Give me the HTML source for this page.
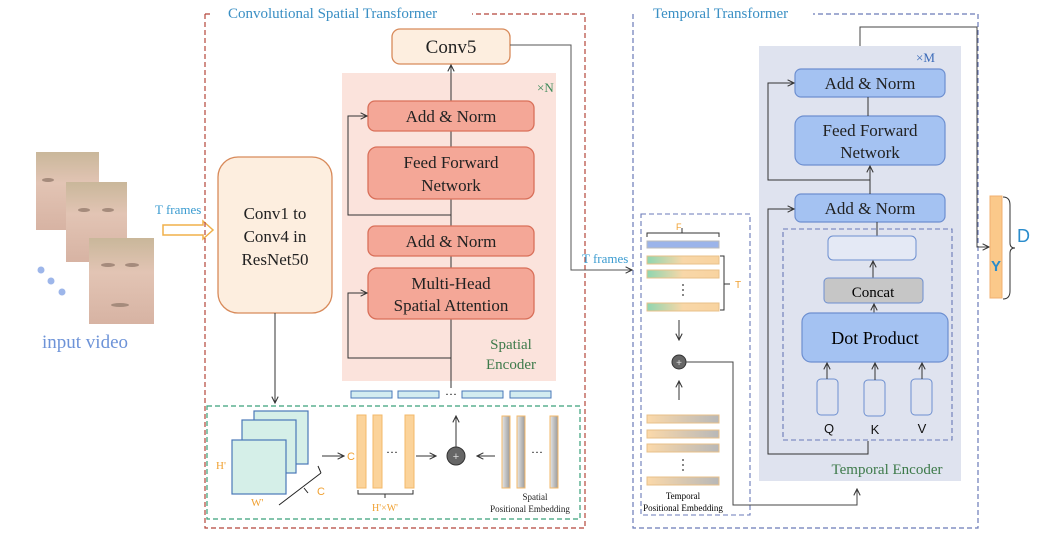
<!DOCTYPE html>
<html><head><meta charset="utf-8"><style>
html,body{margin:0;padding:0;background:#fff;}
svg{display:block;}
text{font-family:"Liberation Serif",serif;}
text.s{font-family:"Liberation Sans",sans-serif;}
</style></head><body>
<svg width="1048" height="560" viewBox="0 0 1048 560" xmlns="http://www.w3.org/2000/svg">
<defs>
<marker id="ar" viewBox="0 0 10 10" refX="9" refY="5" markerWidth="8" markerHeight="8" orient="auto-start-reverse"><path d="M1,1 L9,5 L1,9" fill="none" stroke="#333" stroke-width="1.3"/></marker>
<linearGradient id="gt" x1="0" x2="1"><stop offset="0" stop-color="#8fd6b0"/><stop offset="0.5" stop-color="#f8d7a8"/><stop offset="1" stop-color="#f8d3a0"/></linearGradient>
<linearGradient id="go" x1="0" x2="1"><stop offset="0" stop-color="#fbd9aa"/><stop offset="1" stop-color="#b8b8b8"/></linearGradient>
<linearGradient id="gv" x1="0" x2="1"><stop offset="0" stop-color="#e6e6e6"/><stop offset="1" stop-color="#9a9a9a"/></linearGradient>
<linearGradient id="face" x1="0" y1="0" x2="0" y2="1"><stop offset="0" stop-color="#c9b79a"/><stop offset="0.4" stop-color="#e2c4b4"/><stop offset="1" stop-color="#d7b3a3"/></linearGradient>
</defs>

<!-- faces -->
<rect x="36" y="152" width="63" height="78" fill="url(#face)"/>
<rect x="66" y="182" width="61" height="80" fill="url(#face)"/>
<rect x="89" y="238" width="65" height="86" fill="url(#face)"/>
<g fill="#a58b7c"><ellipse cx="108" cy="265" rx="7" ry="2"/><ellipse cx="132" cy="265" rx="7" ry="2"/><ellipse cx="120" cy="305" rx="9" ry="2"/>
<ellipse cx="84" cy="210" rx="6" ry="2"/><ellipse cx="108" cy="210" rx="6" ry="2"/><ellipse cx="48" cy="180" rx="6" ry="2"/></g>
<g fill="#9db6ea"><circle cx="41" cy="270" r="3.5"/><circle cx="51" cy="281" r="3.5"/><circle cx="62" cy="292" r="3.5"/></g>
<text x="42" y="348" font-size="19" fill="#6d93d8">input video</text>

<text x="155" y="214" font-size="13" fill="#3a9bd0">T frames</text>
<path d="M163,225 H203 V221 L213,230 L203,239 V235 H163 Z" fill="none" stroke="#f0b04a" stroke-width="1.5"/>

<!-- red dashed box -->
<path d="M205,14 V528 H585 V14 H472 M205,14 H212" fill="none" stroke="#b5453a" stroke-width="1.2" stroke-dasharray="5,3"/>
<text x="228" y="18" font-size="15" fill="#3a8fc4">Convolutional Spatial Transformer</text>

<!-- blue dashed box -->
<path d="M633,14 V528 H978 V14 H813" fill="none" stroke="#6a7ab8" stroke-width="1.2" stroke-dasharray="5,3"/>
<text x="653" y="18" font-size="15" fill="#3a8fc4">Temporal Transformer</text>

<!-- Conv1 box -->
<rect x="218" y="157" width="114" height="156" rx="20" fill="#fdeedf" stroke="#d88a5a" stroke-width="1.3"/>
<g font-size="17" fill="#222" text-anchor="middle"><text x="275" y="219">Conv1 to</text><text x="275" y="242">Conv4 in</text><text x="275" y="265">ResNet50</text></g>
<line x1="275" y1="313" x2="275" y2="403" stroke="#333" marker-end="url(#ar)"/>

<!-- spatial encoder -->
<rect x="342" y="73" width="214" height="308" fill="#fbe3dc"/>
<text x="537" y="92" font-size="13" fill="#3d8a5a">×N</text>
<text x="511" y="349" font-size="15" fill="#3d7a4a" text-anchor="middle">Spatial</text>
<text x="511" y="369" font-size="15" fill="#3d7a4a" text-anchor="middle">Encoder</text>
<rect x="392" y="29" width="118" height="35" rx="8" fill="#fdeedf" stroke="#d88a5a" stroke-width="1.3"/>
<text x="451" y="53" font-size="19" text-anchor="middle" fill="#222">Conv5</text>
<line x1="451" y1="390" x2="451" y2="65" stroke="#333" marker-end="url(#ar)"/>
<g fill="#f4a797" stroke="#d9705a" stroke-width="1.3">
<rect x="368" y="101" width="166" height="30" rx="7"/>
<rect x="368" y="147" width="166" height="52" rx="9"/>
<rect x="368" y="226" width="166" height="30" rx="7"/>
<rect x="368" y="268" width="166" height="51" rx="9"/>
</g>
<g font-size="17" fill="#222" text-anchor="middle">
<text x="451" y="122">Add &amp; Norm</text>
<text x="451" y="168">Feed Forward</text><text x="451" y="191">Network</text>
<text x="451" y="247">Add &amp; Norm</text>
<text x="451" y="289">Multi-Head</text><text x="451" y="311">Spatial Attention</text>
</g>
<path d="M451,215 H348 V116 H367" fill="none" stroke="#333" marker-end="url(#ar)"/>
<path d="M451,358 H348 V293 H367" fill="none" stroke="#333" marker-end="url(#ar)"/>
<!-- tokens -->
<g fill="#d3ecf0" stroke="#4a78b8" stroke-width="1"><rect x="351" y="391" width="41" height="7"/><rect x="398" y="391" width="41" height="7"/><rect x="462" y="391" width="41" height="7"/><rect x="510" y="391" width="41" height="7"/></g>
<rect x="446" y="388" width="12" height="12" fill="#fff"/>
<text x="451" y="398" font-size="12" text-anchor="middle">···</text>

<!-- Conv5 to temporal -->
<path d="M510,45 H571 V270 H632" fill="none" stroke="#555" marker-end="url(#ar)"/>
<text x="582" y="263" font-size="13" fill="#3a9bd0">T frames</text>

<!-- green dashed -->
<rect x="207" y="406" width="373" height="113" fill="none" stroke="#3aa07a" stroke-width="1.2" stroke-dasharray="5,3"/>
<g fill="#d5efe8" stroke="#4a78b8" stroke-width="1.2"><rect x="254" y="411" width="54" height="53"/><rect x="242" y="420" width="54" height="53"/><rect x="232" y="440" width="54" height="54"/></g>
<text x="216" y="469" font-size="11" fill="#f0a030">H'</text>
<text x="251" y="506" font-size="11" fill="#f0a030">W'</text>
<text class="s" x="317" y="495" font-size="11" fill="#f0a030">C</text>
<path d="M279,505 L321,473 M304,488 L308,493 M318,466 L321,473" fill="none" stroke="#222" stroke-width="1"/>
<line x1="322" y1="456" x2="344" y2="456" stroke="#333" marker-end="url(#ar)"/>
<text class="s" x="347" y="460" font-size="11" fill="#f0a030">C</text>
<g fill="#fbd39a" stroke="#f3b86a"><rect x="357" y="415" width="9" height="73"/><rect x="373" y="415" width="9" height="73"/><rect x="405" y="415" width="9" height="73"/></g>
<text x="392" y="456" font-size="12" text-anchor="middle">···</text>
<path d="M358,490 V494 H385 V498 M385,494 H413 V490" fill="none" stroke="#333"/>
<text x="385" y="511" font-size="10" fill="#f0a030" text-anchor="middle">H'×W'</text>
<line x1="416" y1="456" x2="436" y2="456" stroke="#333" marker-end="url(#ar)"/>
<circle cx="456" cy="456" r="9" fill="#666" stroke="#333"/><text class="s" x="456" y="460" font-size="11" fill="#ddd" text-anchor="middle">+</text>
<line x1="456" y1="447" x2="456" y2="416" stroke="#333" marker-end="url(#ar)"/>
<line x1="495" y1="456" x2="477" y2="456" stroke="#333" marker-end="url(#ar)"/>
<g fill="url(#gv)" stroke="#f3b86a"><rect x="502" y="416" width="8" height="72"/><rect x="517" y="416" width="8" height="72"/><rect x="550" y="416" width="8" height="72"/></g>
<text x="537" y="456" font-size="12" text-anchor="middle">···</text>
<text x="535" y="500" font-size="9" text-anchor="middle" fill="#222">Spatial</text>
<text x="530" y="512" font-size="9" text-anchor="middle" fill="#222">Positional Embedding</text>

<!-- temporal inner -->
<rect x="641" y="214" width="109" height="301" fill="none" stroke="#6a7ab8" stroke-width="1.1" stroke-dasharray="5,3"/>
<path d="M647,237 V233 H682 V228 M682,233 H719 V237" fill="none" stroke="#333"/>
<text class="s" x="676" y="230" font-size="9" fill="#f0a030">F</text>
<rect x="647" y="241" width="72" height="7" fill="#9bb4ea" stroke="#bbb"/>
<g fill="url(#gt)" stroke="#e8c08a"><rect x="647" y="256" width="72" height="8"/><rect x="647" y="270" width="72" height="8"/><rect x="647" y="303" width="72" height="8"/></g>
<g fill="#333"><circle cx="683" cy="285" r="0.9"/><circle cx="683" cy="290" r="0.9"/><circle cx="683" cy="295" r="0.9"/></g>
<path d="M720,256 H724 V310 H720 M724,284 H730" fill="none" stroke="#333"/>
<text class="s" x="735" y="288" font-size="10" fill="#f0a030">T</text>
<line x1="679" y1="320" x2="679" y2="340" stroke="#333" marker-end="url(#ar)"/>
<circle cx="679" cy="362" r="7" fill="#666" stroke="#333"/><text class="s" x="679" y="366" font-size="10" fill="#ddd" text-anchor="middle">+</text>
<line x1="679" y1="400" x2="679" y2="381" stroke="#333" marker-end="url(#ar)"/>
<g fill="url(#go)" stroke="#e8c08a"><rect x="647" y="415" width="72" height="8"/><rect x="647" y="430" width="72" height="8"/><rect x="647" y="444" width="72" height="8"/><rect x="647" y="477" width="72" height="8"/></g>
<g fill="#333"><circle cx="683" cy="460" r="0.9"/><circle cx="683" cy="465" r="0.9"/><circle cx="683" cy="470" r="0.9"/></g>
<text x="683" y="499" font-size="9" text-anchor="middle">Temporal</text>
<text x="683" y="511" font-size="9" text-anchor="middle">Positional Embedding</text>
<path d="M686,362 H733 V505 H857 V489" fill="none" stroke="#444" marker-end="url(#ar)"/>

<!-- temporal encoder -->
<rect x="759" y="46" width="202" height="435" fill="#dfe3ef"/>
<text x="916" y="62" font-size="13" fill="#3a6ab8">×M</text>
<text x="887" y="474" font-size="15" fill="#3d7a4a" text-anchor="middle">Temporal Encoder</text>
<path d="M860,46 V27 H977 V247 H989" fill="none" stroke="#444" marker-end="url(#ar)"/>
<g fill="#a4c2f2" stroke="#6d8fd0" stroke-width="1.2">
<rect x="795" y="69" width="150" height="28" rx="6"/>
<rect x="795" y="116" width="150" height="49" rx="9"/>
<rect x="795" y="194" width="150" height="28" rx="6"/>
</g>
<g font-size="17" fill="#222" text-anchor="middle">
<text x="870" y="89">Add &amp; Norm</text>
<text x="870" y="136">Feed Forward</text><text x="870" y="158">Network</text>
<text x="870" y="214">Add &amp; Norm</text>
</g>
<line x1="868" y1="97" x2="868" y2="116" stroke="#333"/>
<line x1="870" y1="194" x2="870" y2="166" stroke="#333" marker-end="url(#ar)"/>
<path d="M870,180 H768 V83 H794" fill="none" stroke="#333" marker-end="url(#ar)"/>
<path d="M868,441 V454 H768 V209 H794" fill="none" stroke="#333" marker-end="url(#ar)"/>
<rect x="783" y="229" width="169" height="211" fill="none" stroke="#6a7ab8" stroke-width="1.1" stroke-dasharray="5,3"/>
<line x1="877" y1="222" x2="877" y2="236" stroke="#333"/>
<rect x="828" y="236" width="88" height="24" rx="5" fill="#e4e9f5" stroke="#6d8fd0"/>
<line x1="873" y1="278" x2="873" y2="261" stroke="#333" marker-end="url(#ar)"/>
<rect x="824" y="278" width="99" height="25" rx="4" fill="#c6c6c6" stroke="#6d8fd0"/>
<text x="873" y="297" font-size="15" text-anchor="middle">Concat</text>
<line x1="874" y1="313" x2="874" y2="304" stroke="#333" marker-end="url(#ar)"/>
<rect x="802" y="313" width="146" height="49" rx="9" fill="#a4c2f2" stroke="#6d8fd0" stroke-width="1.2"/>
<text x="875" y="344" font-size="18" text-anchor="middle">Dot Product</text>
<g fill="#dfe3ef" stroke="#6d8fd0"><rect x="817" y="379" width="21" height="36" rx="4"/><rect x="864" y="380" width="21" height="36" rx="4"/><rect x="911" y="379" width="21" height="36" rx="4"/></g>
<line x1="827" y1="379" x2="827" y2="363" stroke="#333" marker-end="url(#ar)"/>
<line x1="875" y1="380" x2="875" y2="363" stroke="#333" marker-end="url(#ar)"/>
<line x1="922" y1="379" x2="922" y2="363" stroke="#333" marker-end="url(#ar)"/>
<g font-size="13" text-anchor="middle" fill="#111"><text class="s" x="829" y="433">Q</text><text class="s" x="875" y="434">K</text><text class="s" x="922" y="433">V</text></g>

<!-- Y -->
<rect x="990" y="196" width="12" height="102" fill="#fbc98a" stroke="#f0b070"/>
<text class="s" x="996" y="271" font-size="15" font-weight="bold" fill="#2a8ccc" text-anchor="middle">Y</text>
<path d="M1003,197 Q1010,197 1010,205 V243 Q1010,248 1015,248 Q1010,248 1010,253 V291 Q1010,299 1003,299" fill="none" stroke="#333"/>
<text class="s" x="1017" y="242" font-size="18" fill="#2a8ccc">D</text>
</svg>
</body></html>
